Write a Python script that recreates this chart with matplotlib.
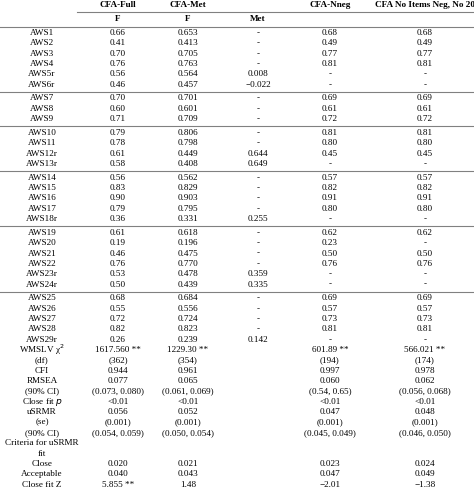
import matplotlib.pyplot as plt

items = ['AWS1', 'AWS2', 'AWS3', 'AWS4', 'AWS5r', 'AWS6r', 'AWS7', 'AWS8', 'AWS9',
         'AWS10', 'AWS11', 'AWS12r', 'AWS13r', 'AWS14', 'AWS15', 'AWS16', 'AWS17', 'AWS18r',
         'AWS19', 'AWS20', 'AWS21', 'AWS22', 'AWS23r', 'AWS24r',
         'AWS25', 'AWS26', 'AWS27', 'AWS28', 'AWS29r']
cfa_full = ['0.66', '0.41', '0.70', '0.76', '0.56', '0.46', '0.70', '0.60', '0.71',
            '0.79', '0.78', '0.61', '0.58', '0.56', '0.83', '0.90', '0.79', '0.36',
            '0.61', '0.19', '0.46', '0.76', '0.53', '0.50',
            '0.68', '0.55', '0.72', '0.82', '0.26']
cfa_met_f = ['0.653', '0.413', '0.705', '0.763', '0.564', '0.457', '0.701', '0.601', '0.709',
             '0.806', '0.798', '0.449', '0.408', '0.562', '0.829', '0.903', '0.795', '0.331',
             '0.618', '0.196', '0.475', '0.770', '0.478', '0.439',
             '0.684', '0.556', '0.724', '0.823', '0.239']
cfa_met_m = ['-', '-', '-', '-', '0.008', '\u22120.022', '-', '-', '-',
             '-', '-', '0.644', '0.649', '-', '-', '-', '-', '0.255',
             '-', '-', '-', '-', '0.359', '0.335',
             '-', '-', '-', '-', '0.142']
cfa_nneg = ['0.68', '0.49', '0.77', '0.81', '-', '-', '0.69', '0.61', '0.72',
            '0.81', '0.80', '0.45', '-', '0.57', '0.82', '0.91', '0.80', '-',
            '0.62', '0.23', '0.50', '0.76', '-', '-',
            '0.69', '0.57', '0.73', '0.81', '-']
cfa_no20 = ['0.68', '0.49', '0.77', '0.81', '-', '-', '0.69', '0.61', '0.72',
            '0.81', '0.80', '0.45', '-', '0.57', '0.82', '0.91', '0.80', '-',
            '0.62', '-', '0.50', '0.76', '-', '-',
            '0.69', '0.57', '0.73', '0.81', '-']
group_ends = [5, 8, 12, 17, 23]

stat_labels = ['WMSLV \u03c7$^2$', '(df)', 'CFI', 'RMSEA', '(90% CI)', 'Close fit $p$', 'uSRMR',
               '(se)', '(90% CI)', 'Criteria for uSRMR', 'fit', 'Close', 'Acceptable', 'Close fit Z']
stat_full = ['1617.560 **', '(362)', '0.944', '0.077', '(0.073, 0.080)', '<0.01', '0.056',
             '(0.001)', '(0.054, 0.059)', '', '', '0.020', '0.040', '5.855 **']
stat_met = ['1229.30 **', '(354)', '0.961', '0.065', '(0.061, 0.069)', '<0.01', '0.052',
            '(0.001)', '(0.050, 0.054)', '', '', '0.021', '0.043', '1.48']
stat_nneg = ['601.89 **', '(194)', '0.997', '0.060', '(0.54, 0.65)', '<0.01', '0.047',
             '(0.001)', '(0.045, 0.049)', '', '', '0.023', '0.047', '\u22122.01']
stat_no20 = ['566.021 **', '(174)', '0.978', '0.062', '(0.056, 0.068)', '<0.01', '0.048',
             '(0.001)', '(0.046, 0.050)', '', '', '0.024', '0.049', '\u22121.38']

plt.rcParams['font.family'] = ['Liberation Serif', 'DejaVu Serif']
fig = plt.figure(figsize=(4.74, 4.92), dpi=100)
ax = fig.add_axes([0, 0, 1, 1])
ax.set_xlim(0, 474)
ax.set_ylim(492, 0)
ax.axis('off')

cols = [42, 118, 188, 258, 330, 425]
fs = 6.6
lc = '#808080'

# header
for x, t in [(118, 'CFA-Full'), (188, 'CFA-Met'), (330, 'CFA-Nneg'), (425, 'CFA No Items Neg, No 20')]:
    ax.text(x, 5, t, ha='center', va='center', fontsize=fs, fontweight='bold')
for x, t in [(118, 'F'), (188, 'F'), (258, 'Met')]:
    ax.text(x, 19, t, ha='center', va='center', fontsize=fs, fontweight='bold')
ax.plot([77, 474], [11.5, 11.5], color=lc, lw=0.8)
ax.plot([0, 474], [26.5, 26.5], color=lc, lw=0.8)

y0, dy, gap = 33, 10.35, 3.4
rows = list(zip(items, cfa_full, cfa_met_f, cfa_met_m, cfa_nneg, cfa_no20)) + \
    list(zip(stat_labels, stat_full, stat_met, [''] * len(stat_labels), stat_nneg, stat_no20))
ys = []
for i in range(len(rows)):
    ys.append(y0 + i * dy + gap * sum(1 for g in group_ends if i > g))
for y, row in zip(ys, rows):
    for x, t in zip(cols, row):
        if t:
            ax.text(x, y, t, ha='center', va='center', fontsize=fs)
for g in group_ends:
    y = (ys[g] + ys[g + 1]) / 2
    ax.plot([0, 474], [y, y], color=lc, lw=0.8)

fig.savefig('out.png', dpi=100)
